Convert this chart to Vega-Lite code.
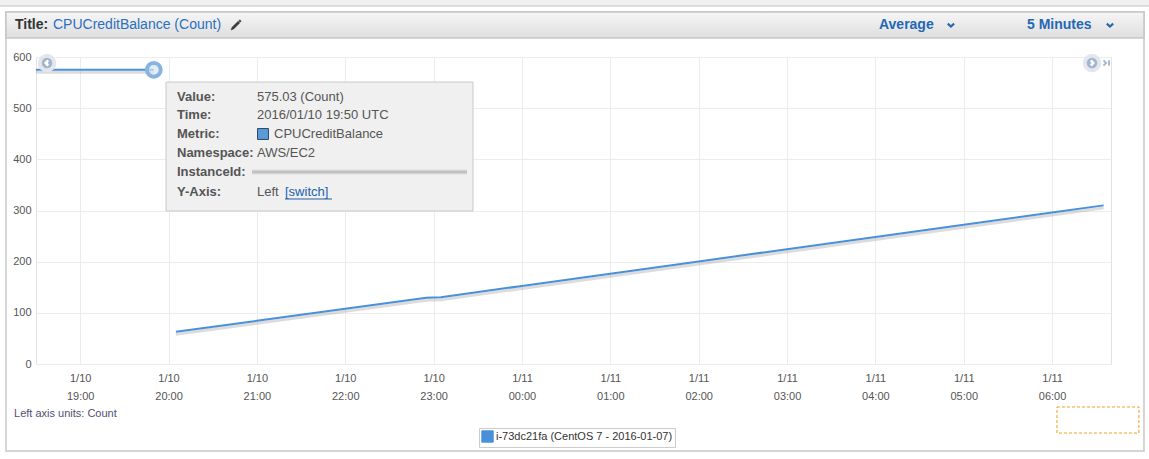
{
  "$schema": "https://vega.github.io/schema/vega-lite/v6.json",
  "width": 1075,
  "height": 307,
  "autosize": {"type": "none"},
  "padding": {"left": 36, "top": 57, "right": 38, "bottom": 95},
  "background": "white",
  "config": {
    "view": {"stroke": "#e2e2e2"},
    "font": "Liberation Sans",
    "text": {"font": "Liberation Sans"}
  },
  "datasets": {
    "line": [
      {"t": "2016-01-10T18:30:00Z", "v": 575.03, "seg": "a", "series": "i-73dc21fa (CentOS 7 - 2016-01-07)"},
      {"t": "2016-01-10T19:50:00Z", "v": 575.03, "seg": "a", "series": "i-73dc21fa (CentOS 7 - 2016-01-07)"},
      {"t": "2016-01-10T20:05:00Z", "v": 63, "seg": "b", "series": "i-73dc21fa (CentOS 7 - 2016-01-07)"},
      {"t": "2016-01-10T21:00:00Z", "v": 84.5, "seg": "b", "series": "i-73dc21fa (CentOS 7 - 2016-01-07)"},
      {"t": "2016-01-10T22:00:00Z", "v": 108, "seg": "b", "series": "i-73dc21fa (CentOS 7 - 2016-01-07)"},
      {"t": "2016-01-10T22:55:00Z", "v": 129.5, "seg": "b", "series": "i-73dc21fa (CentOS 7 - 2016-01-07)"},
      {"t": "2016-01-10T23:05:00Z", "v": 130.5, "seg": "b", "series": "i-73dc21fa (CentOS 7 - 2016-01-07)"},
      {"t": "2016-01-11T00:00:00Z", "v": 152.6, "seg": "b", "series": "i-73dc21fa (CentOS 7 - 2016-01-07)"},
      {"t": "2016-01-11T01:00:00Z", "v": 176.6, "seg": "b", "series": "i-73dc21fa (CentOS 7 - 2016-01-07)"},
      {"t": "2016-01-11T02:00:00Z", "v": 200.5, "seg": "b", "series": "i-73dc21fa (CentOS 7 - 2016-01-07)"},
      {"t": "2016-01-11T03:00:00Z", "v": 224.4, "seg": "b", "series": "i-73dc21fa (CentOS 7 - 2016-01-07)"},
      {"t": "2016-01-11T04:00:00Z", "v": 248.3, "seg": "b", "series": "i-73dc21fa (CentOS 7 - 2016-01-07)"},
      {"t": "2016-01-11T05:00:00Z", "v": 272.2, "seg": "b", "series": "i-73dc21fa (CentOS 7 - 2016-01-07)"},
      {"t": "2016-01-11T06:00:00Z", "v": 296.1, "seg": "b", "series": "i-73dc21fa (CentOS 7 - 2016-01-07)"},
      {"t": "2016-01-11T06:35:00Z", "v": 310, "seg": "b", "series": "i-73dc21fa (CentOS 7 - 2016-01-07)"}
    ],
    "boxes": [
      {"name": "strip", "t": "2016-01-10T18:00:00Z", "t2": "2016-01-11T07:15:00Z", "v": 699.7, "v2": 730},
      {"name": "panel", "t": "2016-01-10T18:09:36Z", "t2": "2016-01-11T07:02:24Z", "v": 687.9, "v2": -170},
      {"name": "header", "t": "2016-01-10T18:09:36Z", "t2": "2016-01-11T07:02:24Z", "v": 687.9, "v2": 637.1},
      {"name": "tip", "t": "2016-01-10T19:58:18Z", "t2": "2016-01-10T23:26:45Z", "v": 551.1, "v2": 299},
      {"name": "blur", "t": "2016-01-10T20:56:40Z", "t2": "2016-01-10T23:22:40Z", "v": 381, "v2": 369.5},
      {"name": "dash", "t": "2016-01-11T06:03:18Z", "t2": "2016-01-11T06:58:58Z", "v": -84, "v2": -134.9}
    ],
    "texts": [
      {"kind": "hdrBold", "t": "2016-01-10T18:15:44Z", "v": 662.5, "label": "Title:"},
      {"kind": "hdrBlue", "t": "2016-01-10T18:41:32Z", "v": 662.5, "label": "CPUCreditBalance (Count)"},
      {"kind": "hdrBlueBold", "t": "2016-01-11T04:02:26Z", "v": 662.5, "label": "Average"},
      {"kind": "hdrBlueBold", "t": "2016-01-11T05:42:56Z", "v": 662.5, "label": "5 Minutes"},
      {"kind": "tipLabel", "t": "2016-01-10T20:05:45Z", "v": 521.8, "label": "Value:"},
      {"kind": "tipLabel", "t": "2016-01-10T20:05:45Z", "v": 486.6, "label": "Time:"},
      {"kind": "tipLabel", "t": "2016-01-10T20:05:45Z", "v": 449.5, "label": "Metric:"},
      {"kind": "tipLabel", "t": "2016-01-10T20:05:45Z", "v": 412.4, "label": "Namespace:"},
      {"kind": "tipLabel", "t": "2016-01-10T20:05:45Z", "v": 375.2, "label": "InstanceId:"},
      {"kind": "tipLabel", "t": "2016-01-10T20:05:45Z", "v": 336.2, "label": "Y-Axis:"},
      {"kind": "tipValue", "t": "2016-01-10T21:00:04Z", "v": 521.8, "label": "575.03 (Count)"},
      {"kind": "tipValue", "t": "2016-01-10T21:00:04Z", "v": 486.6, "label": "2016/01/10 19:50 UTC"},
      {"kind": "tipValue", "t": "2016-01-10T21:11:37Z", "v": 449.5, "label": "CPUCreditBalance"},
      {"kind": "tipValue", "t": "2016-01-10T21:00:04Z", "v": 412.4, "label": "AWS/EC2"},
      {"kind": "tipValue", "t": "2016-01-10T21:00:04Z", "v": 336.2, "label": "Left"},
      {"kind": "tipLink", "t": "2016-01-10T21:19:05Z", "v": 336.2, "label": "[switch]"},
      {"kind": "units", "t": "2016-01-10T18:15:04Z", "v": -97.7, "label": "Left axis units:  Count"}
    ],
    "icons": [
      {"kind": "pencil", "t": "2016-01-10T20:45:49Z", "v": 662.5},
      {"kind": "navL", "t": "2016-01-10T18:37:28Z", "v": 588.3},
      {"kind": "navR", "t": "2016-01-11T06:27:06Z", "v": 588.3},
      {"kind": "navEnd", "t": "2016-01-11T06:37:10Z", "v": 588.3}
    ],
    "chevrons": [
      {"t": "2016-01-11T04:51:18Z", "v": 662.5},
      {"t": "2016-01-11T06:39:18Z", "v": 662.5}
    ],
    "hover": [
      {"t": "2016-01-10T19:50:00Z", "v": 575.03}
    ],
    "swatch": [
      {"t": "2016-01-10T21:04:08Z", "v": 449.5}
    ],
    "underline": [
      {"t": "2016-01-10T21:19:05Z", "t2": "2016-01-10T21:51:00Z", "v": 322.5}
    ]
  },
  "encoding": {
    "x": {
      "field": "t",
      "type": "temporal",
      "scale": {
        "type": "utc",
        "domain": [
          {"year": 2016, "month": 1, "date": 10, "hours": 18, "minutes": 30, "utc": true},
          {"year": 2016, "month": 1, "date": 11, "hours": 6, "minutes": 40, "utc": true}
        ]
      },
      "axis": {
        "title": null,
        "values": [
          {"year": 2016, "month": 1, "date": 10, "hours": 19, "utc": true},
          {"year": 2016, "month": 1, "date": 10, "hours": 20, "utc": true},
          {"year": 2016, "month": 1, "date": 10, "hours": 21, "utc": true},
          {"year": 2016, "month": 1, "date": 10, "hours": 22, "utc": true},
          {"year": 2016, "month": 1, "date": 10, "hours": 23, "utc": true},
          {"year": 2016, "month": 1, "date": 11, "hours": 0, "utc": true},
          {"year": 2016, "month": 1, "date": 11, "hours": 1, "utc": true},
          {"year": 2016, "month": 1, "date": 11, "hours": 2, "utc": true},
          {"year": 2016, "month": 1, "date": 11, "hours": 3, "utc": true},
          {"year": 2016, "month": 1, "date": 11, "hours": 4, "utc": true},
          {"year": 2016, "month": 1, "date": 11, "hours": 5, "utc": true},
          {"year": 2016, "month": 1, "date": 11, "hours": 6, "utc": true}
        ],
        "labelExpr": "[utcFormat(datum.value, '%-m/%d'), utcFormat(datum.value, '%H:%M')]",
        "labelFontSize": 11,
        "labelColor": "#555555",
        "labelFont": "Liberation Sans",
        "labelLineHeight": 18,
        "labelPadding": 8,
        "labelBaseline": "top",
        "domain": false,
        "ticks": false,
        "grid": true,
        "gridColor": "#ececec",
        "labelOverlap": false,
        "labelFlush": false
      }
    },
    "y": {
      "field": "v",
      "type": "quantitative",
      "scale": {"domain": [0, 600], "nice": false, "zero": false},
      "axis": {
        "title": null,
        "values": [0, 100, 200, 300, 400, 500, 600],
        "labelFontSize": 11,
        "labelColor": "#555555",
        "labelFont": "Liberation Sans",
        "labelPadding": 5,
        "domain": false,
        "ticks": false,
        "grid": true,
        "gridColor": "#ececec"
      }
    }
  },
  "layer": [
    {
      "data": {"name": "boxes"},
      "transform": [{"filter": "datum.name === 'strip'"}],
      "mark": {"type": "rect", "clip": false, "fill": "#f0f0f0", "stroke": "#c2c2c2", "strokeWidth": 1},
      "encoding": {"x2": {"field": "t2"}, "y2": {"field": "v2"}}
    },
    {
      "data": {"name": "boxes"},
      "transform": [{"filter": "datum.name === 'panel'"}],
      "mark": {"type": "rect", "clip": false, "fill": null, "fillOpacity": 0, "stroke": "#c8c8c8", "strokeWidth": 1.5},
      "encoding": {"x2": {"field": "t2"}, "y2": {"field": "v2"}}
    },
    {
      "data": {"name": "boxes"},
      "transform": [{"filter": "datum.name === 'header'"}],
      "mark": {
        "type": "rect",
        "clip": false,
        "fill": {"gradient": "linear", "x1": 0, "y1": 0, "x2": 0, "y2": 1, "stops": [{"offset": 0, "color": "#f6f6f6"}, {"offset": 1, "color": "#dedede"}]},
        "stroke": "#c6c6c6",
        "strokeWidth": 1.5
      },
      "encoding": {"x2": {"field": "t2"}, "y2": {"field": "v2"}}
    },
    {
      "data": {"name": "texts"},
      "transform": [{"filter": "datum.kind === 'hdrBold'"}],
      "mark": {"type": "text", "clip": false, "align": "left", "baseline": "middle", "fontSize": 14, "fontWeight": "bold", "color": "#333333"},
      "encoding": {"text": {"field": "label"}}
    },
    {
      "data": {"name": "texts"},
      "transform": [{"filter": "datum.kind === 'hdrBlue'"}],
      "mark": {"type": "text", "clip": false, "align": "left", "baseline": "middle", "fontSize": 14, "color": "#2b6fbe"},
      "encoding": {"text": {"field": "label"}}
    },
    {
      "data": {"name": "texts"},
      "transform": [{"filter": "datum.kind === 'hdrBlueBold'"}],
      "mark": {"type": "text", "clip": false, "align": "left", "baseline": "middle", "fontSize": 14, "fontWeight": "bold", "color": "#2467b4"},
      "encoding": {"text": {"field": "label"}}
    },
    {
      "data": {"name": "icons"},
      "transform": [{"filter": "datum.kind === 'pencil'"}],
      "mark": {"type": "point", "clip": false, "shape": "M-0.95,0.95L-0.756,0.444L0.394,-0.706L0.706,-0.394L-0.444,0.756Z M0.52,-0.78L0.78,-0.52L1.0,-0.74L0.74,-1.0Z", "filled": true, "fill": "#3a3a3a", "stroke": "#3a3a3a", "strokeWidth": 0.5, "size": 110, "opacity": 1}
    },
    {
      "data": {"name": "chevrons"},
      "mark": {"type": "point", "clip": false, "shape": "M-1,-0.45L0,0.45L1,-0.45", "filled": false, "stroke": "#2467b4", "strokeWidth": 2.2, "size": 40, "opacity": 1}
    },
    {
      "data": {"name": "line"},
      "mark": {"type": "line", "clip": false, "color": "#9a9a9a", "strokeWidth": 3, "opacity": 0.35, "yOffset": 2.5},
      "encoding": {"detail": {"field": "seg"}}
    },
    {
      "data": {"name": "line"},
      "mark": {"type": "line", "clip": false, "strokeWidth": 2},
      "encoding": {
        "detail": {"field": "seg"},
        "color": {
          "field": "series",
          "type": "nominal",
          "scale": {"range": ["#4a90d9"]},
          "legend": {
            "title": null,
            "orient": "none",
            "legendX": 443,
            "legendY": 371,
            "direction": "horizontal",
            "fillColor": "#ffffff",
            "strokeColor": "#cccccc",
            "padding": 2,
            "labelFontSize": 11,
            "labelFont": "Liberation Sans",
            "labelColor": "#333333",
            "labelOffset": 2,
            "labelLimit": 0,
            "symbolType": "square",
            "symbolSize": 130,
            "symbolFillColor": "#4a90d9",
            "symbolStrokeColor": "#2c4e73",
            "symbolStrokeWidth": 1,
            "encode": {
              "symbols": {"update": {"fill": {"value": "#4a90d9"}, "stroke": {"value": "#2c4e73"}, "strokeWidth": {"value": 1}, "shape": {"value": "square"}}}
            }
          }
        }
      }
    },
    {
      "data": {"name": "icons"},
      "transform": [{"filter": "datum.kind === 'navL' || datum.kind === 'navR'"}],
      "mark": {"type": "point", "clip": false, "shape": "circle", "filled": true, "fill": "#a2b5cf", "stroke": "#e3e7ed", "strokeWidth": 4, "size": 210, "opacity": 1}
    },
    {
      "data": {"name": "icons"},
      "transform": [{"filter": "datum.kind === 'navL'"}],
      "mark": {"type": "point", "clip": false, "shape": "M0.3,-0.65L-0.3,0L0.3,0.65", "filled": false, "stroke": "#ffffff", "strokeWidth": 2.6, "size": 60, "opacity": 1}
    },
    {
      "data": {"name": "icons"},
      "transform": [{"filter": "datum.kind === 'navR'"}],
      "mark": {"type": "point", "clip": false, "shape": "M-0.3,-0.65L0.3,0L-0.3,0.65", "filled": false, "stroke": "#ffffff", "strokeWidth": 2.6, "size": 60, "opacity": 1}
    },
    {
      "data": {"name": "icons"},
      "transform": [{"filter": "datum.kind === 'navEnd'"}],
      "mark": {"type": "point", "clip": false, "shape": "M-0.9,-0.7L-0.2,0L-0.9,0.7 M0.6,-0.75L0.6,0.75", "filled": false, "stroke": "#aab8cc", "strokeWidth": 2, "size": 55, "opacity": 1}
    },
    {
      "data": {"name": "hover"},
      "mark": {"type": "point", "clip": false, "shape": "circle", "filled": true, "fill": "#d8e7f6", "fillOpacity": 0.7, "stroke": "#86b3e0", "strokeWidth": 4, "size": 190, "opacity": 1}
    },
    {
      "data": {"name": "boxes"},
      "transform": [{"filter": "datum.name === 'tip'"}],
      "mark": {"type": "rect", "clip": false, "fill": "#efefef", "fillOpacity": 0.97, "stroke": "#c9c9c9", "strokeWidth": 1},
      "encoding": {"x2": {"field": "t2"}, "y2": {"field": "v2"}}
    },
    {
      "data": {"name": "boxes"},
      "transform": [{"filter": "datum.name === 'blur'"}],
      "mark": {
        "type": "rect",
        "clip": false,
        "fill": {"gradient": "linear", "x1": 0, "y1": 0, "x2": 0, "y2": 1, "stops": [{"offset": 0, "color": "#efefef"}, {"offset": 0.5, "color": "#b8b8b8"}, {"offset": 1, "color": "#efefef"}]}
      },
      "encoding": {"x2": {"field": "t2"}, "y2": {"field": "v2"}}
    },
    {
      "data": {"name": "texts"},
      "transform": [{"filter": "datum.kind === 'tipLabel'"}],
      "mark": {"type": "text", "clip": false, "align": "left", "baseline": "middle", "fontSize": 13, "fontWeight": "bold", "color": "#555555"},
      "encoding": {"text": {"field": "label"}}
    },
    {
      "data": {"name": "texts"},
      "transform": [{"filter": "datum.kind === 'tipValue'"}],
      "mark": {"type": "text", "clip": false, "align": "left", "baseline": "middle", "fontSize": 13, "color": "#555555"},
      "encoding": {"text": {"field": "label"}}
    },
    {
      "data": {"name": "texts"},
      "transform": [{"filter": "datum.kind === 'tipLink'"}],
      "mark": {"type": "text", "clip": false, "align": "left", "baseline": "middle", "fontSize": 13, "color": "#2160a8"},
      "encoding": {"text": {"field": "label"}}
    },
    {
      "data": {"name": "underline"},
      "mark": {"type": "rule", "clip": false, "color": "#2160a8", "strokeWidth": 1},
      "encoding": {"x2": {"field": "t2"}}
    },
    {
      "data": {"name": "swatch"},
      "mark": {"type": "point", "clip": false, "shape": "square", "filled": true, "fill": "#5a9ad6", "stroke": "#2f4a68", "strokeWidth": 1, "size": 120, "opacity": 1}
    },
    {
      "data": {"name": "texts"},
      "transform": [{"filter": "datum.kind === 'units'"}],
      "mark": {"type": "text", "clip": false, "align": "left", "baseline": "middle", "fontSize": 11, "color": "#4f4f72"},
      "encoding": {"text": {"field": "label"}}
    },
    {
      "data": {"name": "boxes"},
      "transform": [{"filter": "datum.name === 'dash'"}],
      "mark": {"type": "rect", "clip": false, "fill": null, "fillOpacity": 0, "stroke": "#f0a020", "strokeWidth": 1, "strokeDash": [3, 2]},
      "encoding": {"x2": {"field": "t2"}, "y2": {"field": "v2"}}
    }
  ]
}
